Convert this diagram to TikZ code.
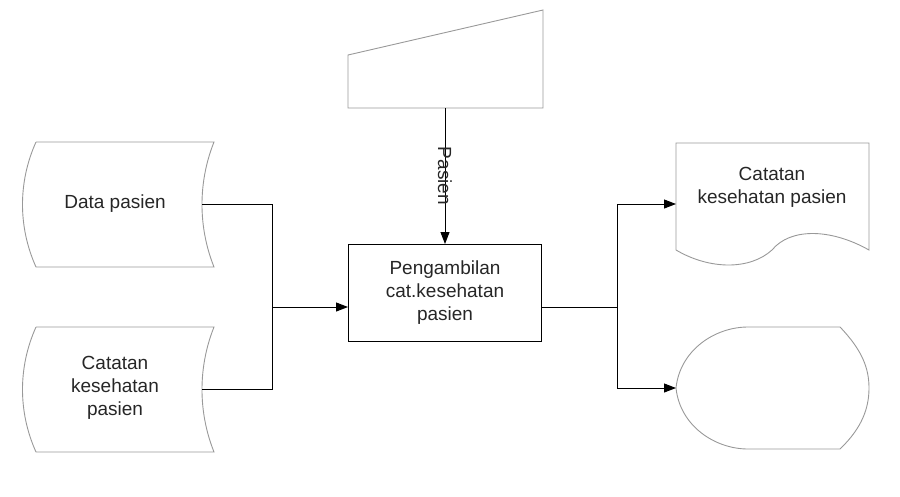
\documentclass[tikz,border=0pt]{standalone}
\usepackage{fontspec}
\setmainfont{Liberation Sans}
\usetikzlibrary{arrows.meta,positioning}
\tikzset{
  outline/.style={draw=gray!80, line width=0.9pt},
  flow/.style={draw=black, line width=1pt},
  flowarrow/.style={flow, -{Triangle[length=12pt, width=9pt]}},
  label text/.style={font=\fontsize{19}{23}\selectfont, align=center, text=black!85}
}
\begin{document}
\begin{tikzpicture}[x=1pt, y=-1pt]
        \useasboundingbox (0,0) rectangle (900,496);
        % Manual input
        \draw [outline] (348,55) -- (543,10) -- (543,108) -- (348,108) -- cycle;
        \coordinate (input) at (445,108);
        % Stored data shapes
        \foreach \y/\name in {142/stA, 327/stB} {
          \draw [outline] (36,\y) -- (214,\y)
                .. controls (198,\y+40) and (198,\y+85) .. (214,\y+125)
                -- (36,\y+125)
                .. controls (18,\y+85) and (18,\y+40) .. (36,\y);
          \coordinate (\name) at (202,\y+62);
        }
        \node [label text] (data) at (115,204) {Data pasien};
        \node [label text] (catat) at (115,388) {Catatan\\kesehatan\\pasien};
        % Process
        \node [draw, line width=1pt, minimum width=193pt, minimum height=97pt,
               label text] (proc) at (445,293) {Pengambilan\\cat.kesehatan\\pasien};
        % Document
        \draw [outline] (676,250) -- (676,143) -- (869,143) -- (869,250)
                .. controls (830,228) and (790,228) .. (772,250)
                .. controls (750,270) and (710,270) .. (676,250);
        \coordinate (doc) at (676,204);
        \node [label text] (doctext) at (772,187) {Catatan\\kesehatan pasien};
        % Display
        \draw [outline] (676,388) .. controls (680,350) and (715,327) .. (748,327)
                -- (840,327) .. controls (862,350) and (869,368) .. (869,388)
                .. controls (869,408) and (862,428) .. (840,449)
                -- (748,449) .. controls (715,449) and (680,426) .. (676,388);
        \coordinate (disp) at (676,388);
        % Connectors
        \coordinate (join) at (272,307);
        \coordinate (split) at (617,307);
        \draw [flow] (stA) -| (join);
        \draw [flow] (stB) -| (join);
        \draw [flowarrow] (join) -- (proc.west |- join);
        \draw [flow] (proc.east |- split) -- (split);
        \draw [flowarrow] (split) |- (doc);
        \draw [flowarrow] (split) |- (disp);
        \draw [flowarrow] (input) -- (proc.north)
                node [midway, rotate=-90, font=\fontsize{19}{23}\selectfont, text=black!85] (pas) {Pasien};
\end{tikzpicture}
\end{document}
